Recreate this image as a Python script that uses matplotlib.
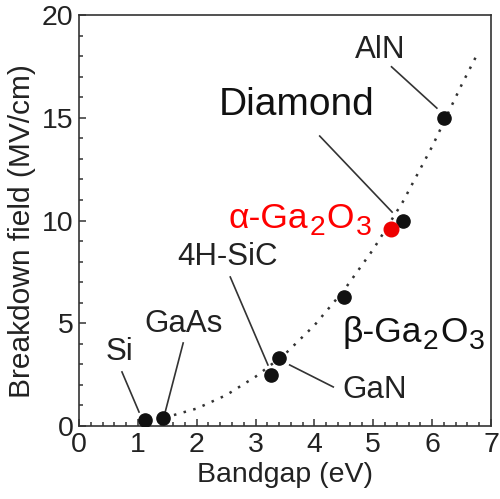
import numpy as np
import matplotlib
matplotlib.use("Agg")
import matplotlib.pyplot as plt
from matplotlib.transforms import offset_copy

plt.rcParams["font.family"] = ["Liberation Sans", "DejaVu Sans"]

# materials: bandgap (eV), breakdown field (MV/cm)
names = ["Si", "GaAs", "4H-SiC", "GaN", "β-Ga2O3", "Diamond", "AlN"]
gap = [1.12, 1.42, 3.26, 3.40, 4.50, 5.50, 6.20]
field = [0.30, 0.40, 2.50, 3.30, 6.30, 10.0, 15.0]
alpha_gap, alpha_field = 5.30, 9.60

# dotted trend curve
curve_x = [1.45, 2.0, 2.5, 3.0, 3.5, 4.0, 4.5, 5.0, 5.5, 6.0, 6.5, 6.75]
curve_y = [0.40, 0.85, 1.50, 2.40, 3.50, 4.90, 6.60, 8.60, 10.9, 13.6, 16.6, 18.0]

INK = "#222222"
DPI = 100
fig = plt.figure(figsize=(5, 4.99), dpi=DPI)
ax = fig.add_axes([0.158, 0.1463, 0.824, 0.8236])
ax.set_xlim(0, 7)
ax.set_ylim(0, 20)

ax.plot(curve_x, curve_y, ls=(0, (1, 3)), lw=1.8, color="#333333", zorder=1)
ax.plot(gap, field, "o", ms=9.5, color="#111111", zorder=3)
ax.plot([alpha_gap], [alpha_field], "o", ms=10.5, color="#ee0000", zorder=4)

# leader lines: (text end) -> (point end)
leaders = [((0.73, 2.63), (1.02, 0.68)),
           ((1.77, 4.04), (1.46, 0.63)),
           ((2.57, 7.25), (3.21, 2.97)),
           ((4.32, 1.90), (3.58, 2.97)),
           ((4.09, 14.11), (5.32, 10.41)),
           ((5.31, 17.48), (6.08, 15.47))]
for (x0, y0), (x1, y1) in leaders:
    ax.plot([x0, x1], [y0, y1], color="#333333", lw=1.2, zorder=2)

fs = 22.5
ax.text(0.68, 3.21, "Si", fontsize=fs, ha="center", va="baseline", color=INK)
ax.text(1.78, 4.57, "GaAs", fontsize=fs, ha="center", va="baseline", color=INK)
ax.text(2.53, 7.83, "4H-SiC", fontsize=fs, ha="center", va="baseline", color=INK)
ax.text(4.47, 1.36, "GaN", fontsize=fs, ha="left", va="baseline", color=INK)
ax.text(3.69, 15.13, "Diamond", fontsize=28, ha="center", va="baseline", color="#111111")
ax.text(5.11, 17.91, "AlN", fontsize=fs, ha="center", va="baseline", color=INK)

renderer = fig.canvas.get_renderer()


def chem(x, y, parts, size, color, ha="left"):
    # parts: (text, subscript?) pieces laid out left to right
    def draw(x0_pts, measure_only):
        dx = x0_pts
        arts = []
        for s, sub in parts:
            tr = offset_copy(ax.transData, fig, x=dx, y=-5 if sub else 0, units="points")
            t = ax.text(x, y, s, fontsize=size * (0.8 if sub else 1), color=color,
                        ha="left", va="baseline", transform=tr)
            w = t.get_window_extent(renderer).width * 72 / DPI
            dx += w + 1.0
            arts.append(t)
        if measure_only:
            for t in arts:
                t.remove()
        return dx - x0_pts

    total = draw(0, True) if ha == "right" else 0
    draw(-total, False)


chem(4.47, 4.10, [("β-Ga", False), ("2", True), ("O", False), ("3", True)], 25.5, "#111111")
chem(4.99, 9.64, [("α-Ga", False), ("2", True), ("O", False), ("3", True)], 25.5, "#ff0000", ha="right")

ax.set_xticks(range(0, 8))
ax.set_yticks([0, 5, 10, 15, 20])
ax.set_xticks(np.arange(0, 7.01, 0.2), minor=True)
ax.set_yticks(range(0, 21), minor=True)
ax.tick_params(which="both", direction="in", top=False, right=False,
               colors="#333333", labelcolor=INK, labelsize=20.5, width=1.1)
ax.tick_params(which="major", length=5, pad=4)
ax.tick_params(which="minor", length=3)
for s in ax.spines.values():
    s.set_color("#333333")
    s.set_linewidth(1.2)

ax.set_xlabel("Bandgap (eV)", fontsize=20.5, color=INK, labelpad=3)
ax.set_ylabel("Breakdown field (MV/cm)", fontsize=21.5, color=INK)
ax.yaxis.set_label_coords(-0.105, 0.475)

fig.savefig("out.png", dpi=DPI)
